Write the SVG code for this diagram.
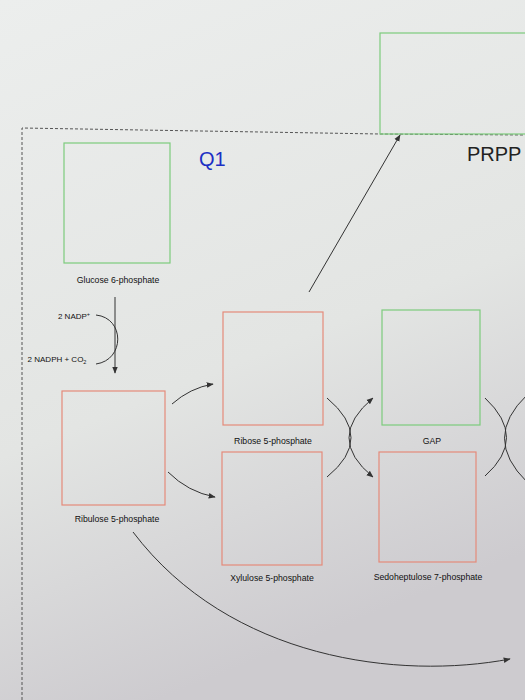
<svg xmlns="http://www.w3.org/2000/svg" width="525" height="700" viewBox="0 0 525 700">
<defs>
<linearGradient id="bg" x1="0" y1="0" x2="0.3" y2="1">
<stop offset="0" stop-color="#eceeed"/>
<stop offset="0.6" stop-color="#e3e5e3"/>
<stop offset="1" stop-color="#cdcbcf"/>
</linearGradient>
<marker id="ah" viewBox="0 0 10 10" refX="9" refY="5" markerWidth="7" markerHeight="7" orient="auto-start-reverse" markerUnits="userSpaceOnUse">
<path d="M0,1 L10,5 L0,9 z" fill="#333"/>
</marker>
<style>
.g{fill:none;stroke:#7ccb7c;stroke-width:1.2}
.r{fill:none;stroke:#e58a7a;stroke-width:1.2}
.lbl{font-family:"Liberation Sans",Arial,sans-serif;font-size:8.7px;fill:#111;text-anchor:middle}
.c{fill:none;stroke:#333;stroke-width:1}
.big{font-family:"Liberation Sans",Arial,sans-serif;font-size:20px}
</style>
</defs>
<rect width="525" height="700" fill="url(#bg)"/>
<path d="M22,700 L22,128 L380,134 L525,135" fill="none" stroke="#555" stroke-width="1" stroke-dasharray="3,2"/>
<text x="199" y="166" class="big" fill="#1c2fc4">Q1</text>
<text x="467" y="161" class="big" fill="#222">PRPP</text>
<g id="prpp"><rect x="380" y="33" width="150" height="101" class="g"/></g>
<g id="glucose6p"><rect x="64" y="143" width="106" height="120" class="g"/><text x="118" y="283" class="lbl">Glucose 6-phosphate</text></g>
<g id="ribose5p"><rect x="223" y="312" width="100" height="113" class="r"/><text x="273" y="444" class="lbl">Ribose 5-phosphate</text></g>
<g id="gap"><rect x="382" y="310" width="98" height="115" class="g"/><text x="432" y="444" class="lbl">GAP</text></g>
<g id="ribulose5p"><rect x="62" y="391" width="103" height="114" class="r"/><text x="117" y="522" class="lbl">Ribulose 5-phosphate</text></g>
<g id="xylulose5p"><rect x="222" y="452" width="100" height="113" class="r"/><text x="272" y="581" class="lbl">Xylulose 5-phosphate</text></g>
<g id="sedoheptulose7p"><rect x="379" y="452" width="97" height="110" class="r"/><text x="428" y="580" class="lbl">Sedoheptulose 7-phosphate</text></g>
<g id="nadp">
<text x="74" y="319" class="lbl" style="font-size:8px">2 NADP<tspan dy="-3" font-size="5.5">+</tspan></text>
<text x="57" y="362" class="lbl" style="font-size:8px">2 NADPH + CO<tspan dy="2" font-size="5.5">2</tspan></text>
</g>
<g id="connectors">
<line x1="115" y1="297" x2="115" y2="373" class="c" marker-end="url(#ah)"/>
<path d="M96,315 C125,318 125,360 96,364" class="c"/>
<line x1="400" y1="135" x2="309" y2="292" class="c" marker-start="url(#ah)"/>
<path d="M172,404 Q190,388 213,384" class="c" marker-end="url(#ah)"/>
<path d="M168,472 Q188,492 215,497" class="c" marker-end="url(#ah)"/>
<path d="M327,398 Q375,438 327,477" class="c"/>
<path d="M373,398 Q325,438 373,477" class="c" marker-start="url(#ah)" marker-end="url(#ah)"/>
<path d="M485,398 Q528,438 485,476" class="c"/>
<path d="M527,395 Q482,438 527,482" class="c"/>
<path d="M133,532 C230,660 400,680 510,659" class="c" marker-end="url(#ah)"/>
</g>
</svg>
